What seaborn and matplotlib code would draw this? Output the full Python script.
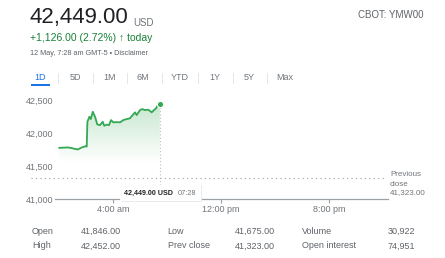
import numpy as np
import pandas as pd
import matplotlib
matplotlib.use("Agg")
import matplotlib.pyplot as plt
import seaborn as sns
from matplotlib.patches import Rectangle
from matplotlib.colors import to_rgb

# ---- data ----
times = ["0:00", "0:41", "0:58", "1:11", "1:23", "1:41", "1:59", "2:03", "2:06", "2:15",
         "2:21", "2:30", "2:40", "2:50", "3:02", "3:14", "3:21", "3:32", "3:42", "3:51",
         "4:01", "4:16", "4:31", "4:46", "5:01", "5:15", "5:30", "5:38", "5:45", "6:00",
         "6:10", "6:20", "6:37", "6:52", "7:02", "7:11", "7:21", "7:28"]
prices = [41781, 41787, 41776, 41765, 41756, 41787, 41806, 41800, 42177, 42253,
          42218, 42329, 42253, 42137, 42126, 42177, 42116, 42134, 42126, 42203,
          42168, 42172, 42168, 42203, 42218, 42229, 42290, 42320, 42279, 42355,
          42370, 42355, 42360, 42320, 42355, 42381, 42442, 42449]
prev_close = 41323
x_ticks = [4, 12, 20]
x_tick_labels = ["4:00 am", "12:00 pm", "8:00 pm"]
y_ticks = [41000, 41500, 42000, 42500]
y_tick_labels = ["41,000", "41,500", "42,000", "42,500"]
tabs = ["1D", "5D", "1M", "6M", "YTD", "1Y", "5Y", "Max"]
stat_labels_1 = ["Open", "Low", "Volume"]
stat_values_1 = ["41,846.00", "41,675.00", "30,922"]
stat_labels_2 = ["High", "Prev close", "Open interest"]
stat_values_2 = ["42,452.00", "41,323.00", "74,951"]

def to_hours(t):
    h, m = t.split(":")
    return int(h) + int(m) / 60.0

df = pd.DataFrame({"hour": [to_hours(t) for t in times], "price": prices})

sns.set_style("white")
plt.rcParams["font.family"] = ["Liberation Sans", "DejaVu Sans"]

W, H = 445, 258
fig = plt.figure(figsize=(W / 100, H / 100), dpi=100)

def fx(x):
    return x / W

def fy(y):
    return 1 - y / H

GREEN = "#34a853"
GRAY = "#70757a"
DARK = "#202124"

# axes: left px 55, right px 388, bottom px 199.3 (41000), top px 93.9 (42600)
ax = fig.add_axes([fx(55), fy(199.3), fx(388) - fx(55), fy(93.9) - fy(199.3)])
XMIN, XMAX = -0.30, 24.37
YMIN, YMAX = 41000, 42600

sns.lineplot(data=df, x="hour", y="price", ax=ax, color=GREEN, lw=1.3, zorder=4)

# gradient fill below the line
poly = ax.fill_between(df["hour"], df["price"], YMIN, facecolor="none", edgecolor="none")
r, g, b = to_rgb(GREEN)
n = 256
vals = np.linspace(YMAX, YMIN, n)
alpha = np.clip((vals - 41550) / (42450 - 41550), 0, 1) * 0.28
grad = np.zeros((n, 1, 4))
grad[:, 0, 0] = r
grad[:, 0, 1] = g
grad[:, 0, 2] = b
grad[:, 0, 3] = alpha
im = ax.imshow(grad, extent=[df["hour"].min(), df["hour"].max(), YMIN, YMAX],
               aspect="auto", origin="upper", zorder=2)
im.set_clip_path(poly.get_paths()[0], transform=ax.transData)

# end marker
ax.plot([df["hour"].iloc[-1]], [df["price"].iloc[-1]], "o", color=GREEN, ms=4.5,
        mec="white", mew=0.8, zorder=5)

# vertical crosshair
ax.vlines(df["hour"].iloc[-1], 41212, df["price"].iloc[-1], colors="#bdc1c6",
          linestyles=(0, (1, 2)), lw=0.8, zorder=3)

# previous close dotted line
ax.axhline(prev_close, xmin=-0.072, xmax=0.99, clip_on=False, color="#9aa0a6",
           ls=(0, (1, 3)), lw=0.8, zorder=3)

ax.set_xlim(XMIN, XMAX)
ax.set_ylim(YMIN, YMAX)
ax.set_xticks(x_ticks)
ax.set_xticklabels(x_tick_labels)
ax.set_yticks(y_ticks)
ax.set_yticklabels(y_tick_labels)
ax.set_xlabel("")
ax.set_ylabel("")
for s in ["top", "right", "left"]:
    ax.spines[s].set_visible(False)
ax.spines["bottom"].set_color("#9aa0a6")
ax.spines["bottom"].set_linewidth(0.9)
ax.tick_params(axis="x", length=3, width=0.8, color="#9aa0a6", labelsize=6.5,
               labelcolor=GRAY, pad=1, bottom=True)
ax.tick_params(axis="y", length=0, labelsize=6.5, labelcolor=GRAY, pad=1)

# previous close label
for txt, yy in [("Previous", 175), ("close", 184), ("41,323.00", 193)]:
    fig.text(fx(390), fy(yy), txt, fontsize=5.8, color=GRAY, va="center", ha="left")

# tooltip box
fig.patches.append(Rectangle((fx(121), fy(202)), fx(81), fy(185) - fy(202),
                             transform=fig.transFigure, facecolor="#e8eaed",
                             edgecolor="none", zorder=9))
fig.patches.append(Rectangle((fx(120), fy(201)), fx(81), fy(185) - fy(201),
                             transform=fig.transFigure, facecolor="white",
                             edgecolor="none", zorder=10))
fig.text(fx(124), fy(193.5), "42,449.00 USD", fontsize=5.1, color=DARK,
         fontweight="bold", va="center", ha="left", zorder=11)
fig.text(fx(178), fy(193.5), "07:28", fontsize=5.3, color=GRAY, va="center",
         ha="left", zorder=11)

# header
fig.text(fx(30), fy(18), "42,449.00", fontsize=16, color=DARK, va="center", ha="left")
fig.text(fx(133), fy(22.5), "USD", fontsize=7, color=GRAY, va="center", ha="left")
fig.text(fx(424), fy(14.5), "CBOT: YMW00", fontsize=7, color="#5f6368", va="center", ha="right")
fig.text(fx(30), fy(38), "+1,126.00 (2.72%) \u2191 today", fontsize=7.5, color="#188038",
         va="center", ha="left")
fig.text(fx(30), fy(53.5), "12 May, 7:28 am GMT-5 \u2022 Disclaimer", fontsize=5.2,
         color="#5f6368", va="center", ha="left")

# tabs
tab_x = [40.5, 75, 109.5, 143, 179.5, 215, 249, 284.5]
for name, x in zip(tabs, tab_x):
    fig.text(fx(x), fy(78), name, fontsize=6.5, color="#1a73e8" if name == "1D" else GRAY,
             va="center", ha="center")
for x in [58, 93, 127, 162, 198, 233, 267]:
    fig.add_artist(plt.Line2D([fx(x), fx(x)], [fy(73), fy(83)], color="#e0e0e0", lw=0.6))
fig.patches.append(Rectangle((fx(31), fy(86)), fx(19), fy(84) - fy(86),
                             transform=fig.transFigure, facecolor="#1a73e8", edgecolor="none"))

# stats table
col_label_x = [32, 167.5, 301.5]
col_value_x = [81, 235, 415]
for row_y, labs, vals_ in [(231, stat_labels_1, stat_values_1), (246, stat_labels_2, stat_values_2)]:
    for i in range(3):
        fig.text(fx(col_label_x[i]), fy(row_y), labs[i], fontsize=6.5, color="#5f6368",
                 va="center", ha="left")
        if i < 2:
            fig.text(fx(col_value_x[i]), fy(row_y), vals_[i], fontsize=6.5, color="#5f6368",
                     va="center", ha="left")
        else:
            fig.text(fx(col_value_x[i]), fy(row_y), vals_[i], fontsize=6.5, color="#5f6368",
                     va="center", ha="right")

fig.savefig("out.png", dpi=100, facecolor="white")
